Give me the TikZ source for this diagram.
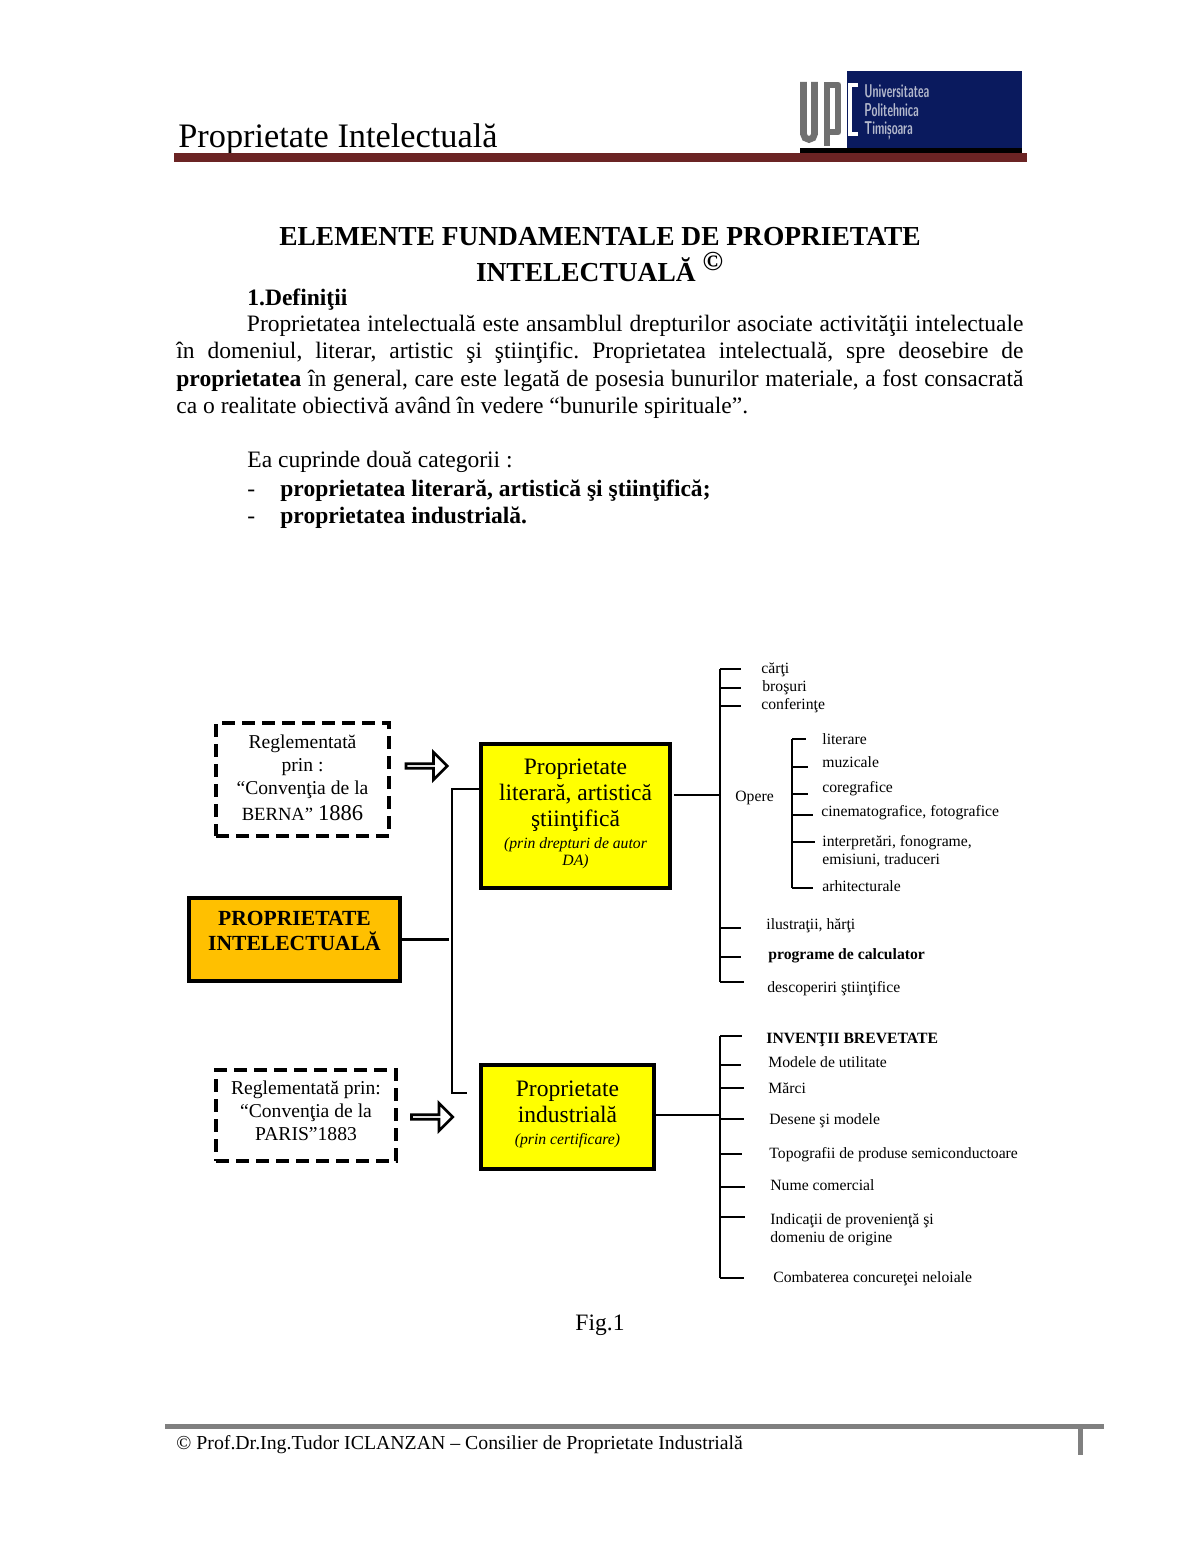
\documentclass[tikz,border=0pt]{standalone}
\usepackage{fontspec}
\usepackage{graphicx}
\setmainfont{Liberation Serif}
\usetikzlibrary{arrows.meta,positioning,shapes.arrows,calc}
\definecolor{hdrbar}{HTML}{6B2424}
\definecolor{logonavy}{HTML}{0A1A5E}
\definecolor{logotext}{HTML}{B4B9CC}
\definecolor{logogray}{HTML}{707070}
\definecolor{barorange}{HTML}{FFC000}
\definecolor{boxyellow}{HTML}{FFFF00}
\definecolor{footgray}{HTML}{808080}
\tikzset{
  yellowbox/.style={draw,fill=boxyellow,line width=2pt,inner sep=0pt,outer sep=0pt,align=center},
  orangebox/.style={draw,fill=barorange,line width=2pt,inner sep=0pt,outer sep=0pt,align=center},
  dashbox/.style={draw,line width=2pt,dash pattern=on 6.6pt off 3.6pt,inner sep=0pt,outer sep=0pt,align=center,font=\fontsize{10}{11.7}\selectfont},
  blockarrow/.style={draw,fill=white,line width=1.4pt,single arrow,single arrow head extend=3.5pt,minimum width=14pt,minimum height=21pt,inner sep=0pt},
  treeline/.style={line width=1.35pt},
  leaflabel/.style={anchor=west,inner sep=0pt,align=left,font=\fontsize{8}{9.4}\selectfont},
  bodytext/.style={anchor=base west,inner sep=0pt,font=\fontsize{12}{14}\selectfont},
  logolabel/.style={logotext,anchor=base west,inner sep=0pt,font=\fontsize{9.5}{10}\selectfont\sffamily\bfseries}
}
\begin{document}
\frenchspacing
\begin{tikzpicture}[x=0.51pt,y=-0.51pt]
  \useasboundingbox (0,0) rectangle (1200,1553);

  % Header
  \node[anchor=base west,inner sep=0pt,font=\fontsize{17.5}{20}\selectfont] (hdrtitle) at (178,148) {Proprietate Intelectuală};
  \fill[black] (800,148) rectangle (1022,153);
  \fill[hdrbar] (174,153) rectangle (1027,162);
  \fill[logonavy] (847,71) rectangle (1022,148);
  \draw[white,line width=1.6pt] (858,85) -- (850,85) -- (850,134) -- (858,134);
  \draw[logogray,line width=3.4pt] (803.5,82) -- (803.5,134) arc[start angle=180,end angle=0,radius=5.5] -- (814.5,82);
  \draw[logogray,line width=3.4pt] (827,146) -- (827,82);
  \draw[logogray,line width=3.4pt,line join=round] (827,85) -- (838,85) -- (838,132) -- (827,132);
  \node[logolabel] (logouni) at (864,98) {\scalebox{.58}[1]{Universitatea}};
  \node[logolabel] (logopol) at (864,117) {\scalebox{.58}[1]{Politehnica}};
  \node[logolabel] (logotim) at (864,135) {\scalebox{.58}[1]{Timișoara}};

  % Title and text
  \node[inner sep=0pt,font=\fontsize{14}{16}\selectfont\bfseries] (title1) at (600,237) {ELEMENTE FUNDAMENTALE DE PROPRIETATE};
  \node[inner sep=0pt,font=\fontsize{14}{16}\selectfont\bfseries] (title2) at (600,267) {INTELECTUALĂ $^{\copyright}$};
  \node[bodytext,font=\fontsize{12}{14}\selectfont\bfseries] (defhead) at (247,305) {1.Definiţii};
  \node[anchor=north west,inner sep=0pt,text width=432pt,align=justify,font=\fontsize{12}{14}\selectfont] (defpar) at (176,314.5)
    {\hspace*{36pt}Proprietatea intelectuală este ansamblul drepturilor asociate activităţii intelectuale\linebreak
     în domeniul, literar, artistic şi ştiinţific. Proprietatea intelectuală, spre deosebire de\linebreak
     \textbf{proprietatea} în general, care este legată de posesia bunurilor materiale, a fost consacrată\linebreak
     ca o realitate obiectivă având în vedere “bunurile spirituale”.};
  \node[bodytext] (catline) at (247,467) {Ea cuprinde două categorii :};
  \node[bodytext] (dash1) at (247,496) {-};
  \node[bodytext,font=\fontsize{12}{14}\selectfont\bfseries] (cat1) at (280,496) {proprietatea literară, artistică şi ştiinţifică;};
  \node[bodytext] (dash2) at (247,523) {-};
  \node[bodytext,font=\fontsize{12}{14}\selectfont\bfseries] (cat2) at (280,523) {proprietatea industrială.};

  % Left column
  \node[dashbox,minimum width=88.2pt,minimum height=57.6pt,text depth=2pt] (berna) at (302.5,779.5)
    {Reglementată\\prin :\\“Convenţia de la\\[1.5pt]{\fontsize{9.5}{11.7}\selectfont BERNA”} {\fontsize{11.5}{11.7}\selectfont 1886}};
  \node[dashbox,minimum width=91.8pt,minimum height=46.4pt,text depth=5pt] (paris) at (306,1115.5)
    {Reglementată prin:\\“Convenţia de la\\PARIS”1883};
  \node[orangebox,minimum width=107.6pt,minimum height=42.3pt,text depth=9pt,font=\fontsize{11}{12.8}\selectfont\bfseries] (propint) at (294.5,939.5)
    {PROPRIETATE\\INTELECTUALĂ};

  % Yellow boxes
  \node[yellowbox,minimum width=96.4pt,minimum height=73.4pt,text depth=4pt,font=\fontsize{12}{13.3}\selectfont] (literar) at (575.5,816)
    {Proprietate\\literară, artistică\\ştiinţifică\\[-2pt]{\fontsize{8}{9}\selectfont\itshape (prin drepturi de autor}\\[-4.6pt]{\fontsize{8}{9}\selectfont\itshape DA)}};
  \node[yellowbox,minimum width=88.2pt,minimum height=53pt,text depth=4pt,font=\fontsize{12}{13.3}\selectfont] (industrial) at (567.5,1117)
    {Proprietate\\industrială\\[-2pt]{\fontsize{8}{10}\selectfont\itshape (prin certificare)}};

  % Block arrows
  \node[blockarrow] (arrberna) at (425.5,766) {};
  \node[blockarrow] (arrparis) at (431,1117) {};

  % Main trunk
  \coordinate (trunktop) at (452,789);
  \coordinate (trunkbot) at (452,1093);
  \coordinate (trunkmid) at (449,939.5);
  \coordinate (stubend) at (467,1093);
  \draw[treeline] (propint.east) -- (trunkmid);
  \draw[treeline] (literar.west |- trunktop) -- (trunktop) -- (trunkbot) -- (stubend);

  % Literary tree
  \coordinate (littop) at (720,669);
  \coordinate (litbot) at (720,982);
  \coordinate (litjoin) at (720,795);
  \draw[treeline] ([xshift=2pt]literar.east |- litjoin) -- (litjoin);
  \draw[treeline] (littop) -- (litbot);
  \foreach \tickname/\y/\e in {a/669/741,b/688/741,c/706/741,d/928/741,e/957/741,f/982/744}
    {\coordinate (lt\tickname) at (720,\y);
     \coordinate (lte\tickname) at (\e,\y);
     \draw[treeline] (lt\tickname) -- (lte\tickname);}
  \node[leaflabel] (carti) at (761,670) {cărţi};
  \node[leaflabel] (brosuri) at (762,688) {broşuri};
  \node[leaflabel] (conferinte) at (761,706) {conferinţe};
  \node[leaflabel] (opere) at (735,798) {Opere};
  \node[leaflabel] (ilustratii) at (766,926) {ilustraţii, hărţi};
  \node[leaflabel,font=\fontsize{8}{9.4}\selectfont\bfseries] (programe) at (768,956) {programe de calculator};
  \node[leaflabel] (descoperiri) at (767,989) {descoperiri ştiinţifice};

  % Opere tree
  \coordinate (optop) at (792,739);
  \coordinate (opbot) at (792,888);
  \draw[treeline] (optop) -- (opbot);
  \foreach \tickname/\y/\e in {a/739/806,b/767/808,c/794/808,d/815/813,e/842/815,f/888/813}
    {\coordinate (ot\tickname) at (792,\y);
     \coordinate (ote\tickname) at (\e,\y);
     \draw[treeline] (ot\tickname) -- (ote\tickname);}
  \node[leaflabel] (literare) at (822,739) {literare};
  \node[leaflabel] (muzicale) at (822,762) {muzicale};
  \node[leaflabel] (coregrafice) at (822,789) {coregrafice};
  \node[leaflabel] (cinema) at (821,813) {cinematografice, fotografice};
  \node[leaflabel] (interpretari) at (822,851) {interpretări, fonograme,\\emisiuni, traduceri};
  \node[leaflabel] (arhitecturale) at (822,886) {arhitecturale};

  % Industrial tree
  \coordinate (indtop) at (720,1036);
  \coordinate (indbot) at (720,1278);
  \coordinate (indjoin) at (720,1115);
  \draw[treeline] (industrial.east |- indjoin) -- (indjoin);
  \draw[treeline] (indtop) -- (indbot);
  \foreach \tickname/\y/\e in {a/1036/742,b/1065/741,c/1088/744,d/1119/744,e/1154/742,f/1187/745,g/1217/745,h/1278/744}
    {\coordinate (it\tickname) at (720,\y);
     \coordinate (ite\tickname) at (\e,\y);
     \draw[treeline] (it\tickname) -- (ite\tickname);}
  \node[leaflabel,font=\fontsize{8}{9.4}\selectfont\bfseries] (inventii) at (766,1040) {INVENŢII BREVETATE};
  \node[leaflabel] (modele) at (768,1062) {Modele de utilitate};
  \node[leaflabel] (marci) at (768,1088) {Mărci};
  \node[leaflabel] (desene) at (769,1121) {Desene şi modele};
  \node[leaflabel] (topografii) at (769,1155) {Topografii de produse semiconductoare};
  \node[leaflabel] (nume) at (770,1185) {Nume comercial};
  \node[leaflabel] (indicatii) at (770,1230) {Indicaţii de provenienţă şi\\domeniu de origine};
  \node[leaflabel] (combaterea) at (773,1279) {Combaterea concureţei neloiale};

  \node[inner sep=0pt,font=\fontsize{12}{14}\selectfont] (figlabel) at (600,1325) {Fig.1};

  % Footer
  \fill[footgray] (165,1424) rectangle (1104,1429);
  \fill[footgray] (1078,1429) rectangle (1083,1455);
  \node[anchor=west,inner sep=0pt,font=\fontsize{10.1}{12}\selectfont] (footer) at (176,1445) {© Prof.Dr.Ing.Tudor ICLANZAN – Consilier de Proprietate Industrială};
\end{tikzpicture}
\end{document}
